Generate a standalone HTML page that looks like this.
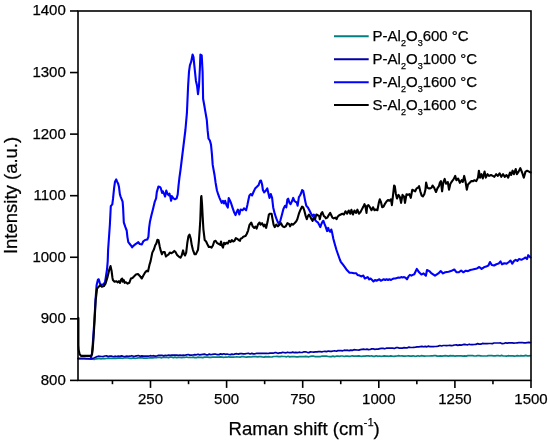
<!DOCTYPE html>
<html><head><meta charset="utf-8"><style>
html,body{margin:0;padding:0;background:#fff;}
body{width:550px;height:443px;overflow:hidden;}
svg{display:block;}
text{font-family:"Liberation Sans",Arial,sans-serif;fill:#000;stroke:#000;stroke-width:0.25px;}
</style></head><body>
<svg width="550" height="443" viewBox="0 0 550 443">
<rect width="550" height="443" fill="#fff"/>
<g fill="none" stroke-linejoin="round" stroke-linecap="round" stroke-width="2.1">
<path d="M78.0,358.8 L79.6,358.9 L81.2,358.9 L82.9,358.9 L84.5,359.0 L86.1,359.1 L87.8,359.1 L89.4,359.1 L91.0,359.2 L92.8,359.2 L94.7,359.3 L96.4,358.8 L98.1,358.7 L99.8,358.7 L101.5,358.8 L103.1,358.4 L104.8,358.7 L106.4,358.5 L108.1,358.4 L109.7,358.3 L111.4,358.3 L113.0,358.5 L114.7,358.2 L116.3,358.4 L118.0,358.2 L119.7,358.0 L121.4,358.2 L123.1,358.3 L124.8,357.8 L126.5,358.0 L128.2,358.0 L129.9,358.3 L131.6,358.3 L133.3,357.9 L135.0,358.3 L136.7,358.2 L138.4,357.8 L140.1,357.9 L141.8,357.7 L143.5,358.1 L145.2,358.0 L146.8,358.1 L148.5,358.0 L150.1,357.9 L151.8,357.9 L153.5,357.8 L155.1,357.4 L156.8,357.7 L158.4,357.3 L160.1,357.4 L161.8,357.8 L163.4,357.3 L165.1,357.3 L166.7,357.2 L168.4,357.8 L170.0,357.2 L171.7,357.1 L173.4,357.6 L175.0,357.1 L176.7,357.6 L178.3,357.4 L180.0,357.5 L181.6,357.6 L183.3,357.4 L184.9,357.5 L186.5,357.0 L188.2,357.5 L189.8,357.4 L191.5,357.5 L193.1,357.1 L194.7,357.6 L196.4,357.7 L198.0,357.1 L199.6,357.3 L201.2,357.4 L202.8,357.6 L204.5,357.1 L206.1,357.1 L207.7,357.1 L209.3,357.3 L210.9,357.4 L212.5,357.2 L214.2,357.1 L215.8,357.1 L217.4,357.1 L219.0,357.1 L220.6,356.8 L222.2,357.1 L223.8,357.4 L225.5,357.0 L227.1,357.2 L228.7,356.8 L230.3,357.1 L231.9,357.2 L233.5,357.1 L235.2,357.0 L236.8,356.9 L238.4,357.0 L240.0,357.2 L241.6,356.6 L243.2,356.6 L244.8,357.0 L246.4,357.2 L248.0,356.9 L249.6,356.8 L251.2,357.0 L252.8,356.6 L254.4,356.6 L256.0,356.6 L257.6,356.8 L259.2,356.6 L260.8,356.6 L262.4,356.9 L264.0,357.1 L265.6,356.6 L267.2,356.9 L268.8,356.7 L270.4,357.0 L272.1,356.8 L273.7,356.5 L275.3,356.5 L276.9,356.3 L278.5,356.6 L280.1,356.6 L281.7,356.4 L283.3,356.5 L284.9,356.5 L286.5,356.8 L288.1,356.3 L289.7,356.9 L291.3,356.6 L292.9,356.6 L294.5,356.5 L296.1,356.8 L297.7,356.8 L299.3,356.6 L300.9,356.5 L302.5,356.7 L304.1,356.7 L305.7,356.4 L307.3,356.6 L308.9,356.8 L310.5,356.4 L312.1,356.2 L313.7,356.2 L315.3,356.6 L316.9,356.5 L318.5,356.7 L320.1,356.6 L321.7,356.2 L323.3,356.1 L324.9,356.2 L326.5,356.1 L328.1,356.5 L329.7,356.6 L331.3,356.6 L332.9,356.1 L334.6,356.6 L336.2,356.2 L337.8,356.2 L339.4,356.4 L341.0,356.0 L342.6,356.0 L344.2,356.5 L345.8,356.1 L347.4,356.1 L349.0,356.3 L350.6,356.3 L352.2,355.8 L353.8,356.1 L355.4,356.1 L357.0,356.1 L358.6,355.9 L360.2,356.2 L361.8,356.4 L363.4,356.0 L365.0,356.1 L366.6,355.8 L368.2,355.9 L369.8,356.2 L371.4,355.8 L373.0,356.4 L374.6,356.4 L376.2,355.8 L377.9,356.4 L379.5,356.0 L381.1,356.3 L382.7,356.2 L384.3,355.9 L385.9,356.2 L387.5,356.2 L389.1,356.3 L390.7,355.9 L392.3,356.2 L393.9,356.4 L395.5,356.1 L397.1,356.0 L398.7,355.7 L400.3,356.0 L402.0,355.9 L403.6,356.2 L405.2,356.1 L406.8,356.0 L408.4,355.8 L410.0,356.1 L411.6,356.1 L413.2,355.8 L414.8,356.3 L416.4,356.1 L418.0,355.7 L419.6,356.3 L421.2,355.7 L422.8,355.8 L424.5,356.1 L426.1,356.0 L427.7,356.0 L429.3,356.0 L430.9,355.9 L432.5,355.8 L434.1,355.7 L435.7,355.6 L437.3,356.1 L438.9,356.1 L440.5,355.9 L442.1,356.1 L443.7,355.8 L445.3,355.7 L446.9,355.8 L448.6,356.2 L450.2,355.6 L451.8,355.9 L453.4,355.7 L455.0,356.1 L456.6,355.8 L458.2,355.8 L459.8,355.8 L461.4,355.9 L463.0,356.1 L464.6,355.8 L466.2,356.1 L467.8,355.6 L469.4,355.7 L471.0,355.6 L472.7,355.6 L474.3,356.0 L475.9,356.0 L477.5,355.6 L479.1,355.6 L480.7,355.8 L482.3,356.0 L483.9,356.0 L485.5,356.0 L487.1,355.9 L488.7,355.6 L490.3,355.7 L491.9,355.6 L493.5,355.8 L495.2,355.8 L496.8,355.6 L498.4,355.6 L500.0,356.0 L501.6,355.4 L503.2,356.0 L504.8,356.0 L506.4,356.1 L508.0,355.7 L509.6,355.8 L511.2,355.8 L512.8,355.8 L514.4,356.1 L516.0,355.9 L517.6,355.6 L519.3,356.0 L520.9,355.7 L522.5,355.8 L524.1,355.9 L525.7,355.4 L527.3,355.9 L528.9,355.8 L530.5,355.7" stroke="#008080" stroke-width="1.7"/>
<path d="M78.0,358.3 L79.7,358.3 L81.3,358.4 L83.0,358.4 L84.7,358.4 L86.3,358.5 L88.0,358.5 L91.1,358.9 L94.0,358.0 L96.2,356.9 L98.4,356.2 L99.8,356.3 L101.5,356.5 L103.2,356.5 L104.8,356.0 L106.5,355.9 L108.2,356.6 L109.9,356.1 L111.5,356.1 L113.2,356.7 L114.9,356.2 L116.6,356.5 L118.2,356.2 L119.9,356.3 L121.6,355.9 L123.3,356.3 L125.0,356.5 L126.7,356.2 L128.3,356.3 L130.0,356.2 L131.7,355.7 L133.4,356.3 L135.1,356.1 L136.8,355.8 L138.4,355.5 L140.1,356.3 L141.8,355.9 L143.5,356.1 L145.2,356.2 L146.9,356.0 L148.5,356.2 L150.2,355.7 L151.9,356.0 L153.6,355.7 L155.2,356.1 L156.9,356.0 L158.6,355.3 L160.3,355.3 L161.9,355.3 L163.6,355.9 L165.3,355.4 L166.9,355.5 L168.6,355.2 L170.2,355.3 L171.8,355.1 L173.5,355.0 L175.1,355.2 L176.7,355.1 L178.4,355.3 L180.0,355.1 L181.6,355.3 L183.3,355.2 L184.9,355.3 L186.5,354.9 L188.2,354.5 L189.8,355.1 L191.5,355.1 L193.1,355.0 L194.7,354.7 L196.4,354.8 L198.0,354.3 L199.6,354.9 L201.2,354.6 L202.8,354.3 L204.5,354.1 L206.1,354.8 L207.7,354.9 L209.3,354.1 L210.9,354.7 L212.5,354.3 L214.2,354.1 L215.8,354.2 L217.4,354.6 L219.0,354.6 L220.6,353.9 L222.2,354.4 L223.8,353.8 L225.5,354.4 L227.1,354.0 L228.7,354.5 L230.3,354.6 L231.9,354.1 L233.5,354.5 L235.2,353.9 L236.8,353.7 L238.4,354.1 L240.0,353.6 L241.7,353.7 L243.4,353.8 L245.0,353.9 L246.7,353.5 L248.4,353.3 L250.1,354.0 L251.8,353.4 L253.4,353.9 L255.1,353.8 L256.8,353.3 L258.4,353.3 L260.1,353.3 L261.7,353.4 L263.3,353.3 L264.9,353.3 L266.6,353.3 L268.2,353.5 L269.8,353.1 L271.4,353.0 L273.1,353.2 L274.7,352.7 L276.3,352.7 L277.9,353.3 L279.6,352.9 L281.2,352.9 L282.8,352.3 L284.4,352.7 L286.1,352.8 L287.7,352.2 L289.3,352.7 L291.0,352.7 L292.6,352.1 L294.2,352.6 L295.8,352.4 L297.5,352.6 L299.1,352.2 L300.7,352.5 L302.3,352.5 L304.0,351.8 L305.6,351.8 L307.2,352.3 L308.8,352.6 L310.5,351.9 L312.1,352.0 L313.7,352.1 L315.3,351.8 L317.0,351.8 L318.6,351.7 L320.2,351.7 L321.8,351.8 L323.4,351.5 L325.0,351.4 L326.6,351.7 L328.2,351.0 L329.9,351.4 L331.5,351.4 L333.1,351.0 L334.7,350.8 L336.3,351.2 L337.9,350.6 L339.5,350.5 L341.1,350.6 L342.7,350.8 L344.3,350.2 L345.9,350.3 L347.5,350.2 L349.1,350.6 L350.7,350.1 L352.4,350.4 L354.0,349.7 L355.6,349.8 L357.2,350.0 L358.8,350.1 L360.4,349.6 L362.0,349.4 L363.6,349.2 L365.2,349.5 L366.9,349.1 L368.5,349.6 L370.1,349.5 L371.7,348.9 L373.3,348.9 L375.0,349.3 L376.6,349.0 L378.2,349.1 L379.8,348.6 L381.5,348.4 L383.1,348.4 L384.7,348.8 L386.3,348.2 L387.9,348.2 L389.6,348.2 L391.2,348.2 L392.8,348.1 L394.4,348.5 L396.0,347.7 L397.7,347.5 L399.3,348.2 L400.9,348.1 L402.5,348.1 L404.1,347.6 L405.8,347.9 L407.4,347.8 L409.0,347.1 L410.6,347.5 L412.3,347.5 L413.9,347.3 L415.5,347.1 L417.1,346.8 L418.7,346.8 L420.4,346.6 L422.0,346.4 L423.6,346.8 L425.2,346.4 L426.9,346.8 L428.5,346.1 L430.1,346.7 L431.8,346.5 L433.4,346.6 L435.0,346.5 L436.7,346.4 L438.3,346.1 L439.9,345.5 L441.6,346.0 L443.2,345.5 L444.8,345.5 L446.5,345.7 L448.1,345.5 L449.7,345.4 L451.4,345.7 L453.0,345.4 L454.6,345.0 L456.3,344.9 L457.9,345.4 L459.5,344.9 L461.2,345.1 L462.8,344.7 L464.4,344.4 L466.1,344.7 L467.7,344.8 L469.3,344.2 L471.0,344.7 L472.6,344.7 L474.2,344.5 L475.9,344.4 L477.5,343.6 L479.1,344.1 L480.8,344.2 L482.4,343.4 L484.0,343.6 L485.7,343.5 L487.3,343.6 L489.0,343.5 L490.6,343.5 L492.3,343.7 L493.9,343.0 L495.6,343.0 L497.3,343.0 L498.9,343.0 L500.6,342.9 L502.3,343.7 L503.9,343.5 L505.6,342.8 L507.2,343.1 L508.9,342.9 L510.6,342.9 L512.2,342.9 L513.9,343.1 L515.5,343.0 L517.2,342.8 L518.9,342.6 L520.5,342.7 L522.2,342.5 L523.9,342.8 L525.5,342.9 L527.2,342.6 L528.8,342.3 L530.5,342.6" stroke="#0000aa" stroke-width="1.7"/>
<path d="M90.8,358.2 L91.9,354.0 L92.7,345.0 L93.6,332.0 L94.4,320.0 L95.5,300.0 L96.6,285.3 L97.9,279.7 L98.7,279.3 L99.8,282.9 L100.7,285.3 L101.8,284.5 L103.4,284.5 L105.0,282.1 L105.8,277.4 L107.0,269.5 L107.7,261.6 L108.1,250.0 L109.9,224.2 L110.8,206.1 L112.3,204.3 L113.0,198.9 L114.1,188.1 L115.0,181.7 L116.2,179.4 L117.1,181.7 L118.1,183.5 L119.0,187.1 L119.9,194.4 L120.8,197.1 L122.6,201.6 L123.1,207.9 L123.8,222.3 L125.3,226.9 L126.7,230.5 L127.4,236.8 L128.3,242.2 L129.8,244.0 L131.0,245.5 L132.1,247.3 L133.4,245.8 L135.2,244.4 L137.0,243.1 L138.3,242.2 L139.7,244.0 L141.9,244.4 L143.3,241.3 L145.1,240.0 L147.3,239.5 L148.4,236.8 L149.1,227.8 L150.0,221.4 L151.3,215.8 L152.9,209.5 L154.8,201.6 L156.1,198.4 L156.8,192.1 L158.4,186.6 L160.0,187.1 L160.8,188.2 L162.1,192.9 L162.8,191.3 L164.0,193.7 L165.1,196.5 L166.3,190.5 L167.4,193.7 L168.7,195.3 L169.5,193.7 L170.3,196.8 L171.1,200.8 L171.8,196.0 L173.4,198.4 L175.0,199.2 L176.6,198.4 L177.7,194.5 L178.5,185.8 L179.4,177.9 L180.5,170.0 L185.4,130.0 L186.9,113.2 L188.1,86.1 L189.0,71.7 L189.9,65.3 L191.2,61.7 L192.6,54.5 L193.5,57.2 L194.4,66.2 L195.9,80.7 L197.1,86.1 L198.0,94.2 L199.0,86.1 L199.9,68.0 L200.4,54.5 L201.7,55.4 L202.6,71.7 L203.1,98.7 L204.4,106.0 L205.3,111.4 L206.8,120.0 L207.6,130.2 L208.5,138.6 L209.8,140.3 L211.0,144.6 L211.9,153.9 L212.7,164.9 L214.4,174.2 L215.6,182.7 L216.9,190.3 L218.3,194.7 L219.6,198.1 L221.7,202.9 L223.0,200.8 L224.1,203.5 L225.1,200.8 L226.4,204.9 L227.8,207.6 L228.7,198.1 L229.8,200.2 L231.2,203.5 L232.5,207.6 L233.9,211.7 L235.5,215.1 L236.8,211.7 L237.9,209.6 L239.3,214.4 L240.6,209.6 L242.7,210.3 L244.0,208.3 L246.1,210.3 L247.4,204.9 L248.5,199.5 L249.4,195.4 L250.8,194.1 L252.1,195.4 L253.5,192.0 L255.1,188.6 L258.5,185.3 L260.0,181.0 L261.0,180.5 L262.1,184.5 L262.9,190.0 L264.2,192.4 L265.7,190.8 L267.3,188.4 L268.4,193.2 L269.5,197.9 L270.8,194.0 L272.1,197.9 L273.2,207.4 L274.7,213.7 L276.3,218.4 L277.9,222.4 L279.0,224.0 L280.3,220.8 L281.8,215.3 L283.4,208.9 L285.0,205.8 L286.3,207.4 L287.4,199.5 L288.2,198.7 L289.4,202.6 L290.5,204.2 L292.1,201.1 L293.2,197.9 L294.5,201.1 L295.7,201.8 L296.8,202.6 L297.6,205.8 L298.9,197.1 L300.0,195.5 L301.1,193.2 L302.1,190.0 L303.2,190.8 L304.3,196.3 L305.2,201.1 L306.3,205.8 L307.9,207.4 L309.5,210.5 L311.1,213.7 L312.6,216.1 L313.7,214.5 L315.0,216.1 L315.1,220.0 L316.6,221.6 L317.9,222.4 L319.2,224.7 L320.3,227.1 L321.4,223.9 L322.6,221.6 L323.4,220.8 L324.5,223.9 L325.8,227.1 L327.1,231.1 L328.2,227.9 L328.9,230.3 L330.2,231.8 L331.3,229.5 L332.1,232.6 L333.4,239.0 L334.9,244.5 L336.5,250.0 L338.4,255.5 L340.0,260.0 L340.8,261.8 L343.0,264.7 L345.2,267.6 L346.6,269.8 L348.1,271.3 L349.5,272.7 L351.7,272.7 L353.9,273.2 L356.1,273.2 L357.5,274.9 L359.7,275.6 L361.2,276.4 L363.4,275.6 L364.8,278.5 L366.3,277.8 L367.7,277.1 L369.2,279.3 L370.6,278.5 L372.1,280.0 L373.5,281.5 L375.0,280.0 L376.5,280.7 L377.9,280.0 L379.4,279.3 L380.8,280.7 L382.3,280.0 L383.7,279.3 L385.2,280.0 L386.6,279.3 L388.1,280.0 L389.5,279.3 L391.0,280.0 L392.5,279.0 L393.9,278.5 L395.4,278.5 L396.8,278.1 L398.3,277.5 L399.7,277.8 L401.2,277.1 L402.6,277.5 L404.1,277.1 L405.5,277.8 L407.0,279.3 L408.5,276.4 L409.9,274.9 L411.4,275.6 L412.8,274.9 L414.3,274.2 L416.8,268.9 L419.1,272.3 L421.4,274.5 L423.6,273.4 L425.9,275.7 L427.0,270.0 L429.3,271.1 L431.6,273.4 L435.0,275.7 L438.4,273.4 L440.7,271.1 L443.0,273.4 L445.2,272.3 L448.6,271.8 L450.9,271.1 L454.3,269.5 L456.6,272.3 L458.9,272.3 L461.1,270.5 L463.4,272.3 L465.7,270.7 L468.0,271.1 L470.2,270.0 L472.5,269.5 L474.8,268.9 L477.0,268.4 L479.3,267.0 L481.6,268.9 L483.9,267.3 L486.1,266.6 L488.4,265.5 L490.0,262.0 L491.8,265.0 L494.1,265.5 L496.4,264.3 L498.6,263.6 L500.5,261.4 L502.0,264.3 L504.3,263.2 L506.6,263.6 L508.9,262.0 L510.5,260.5 L512.3,263.6 L514.1,260.9 L515.7,259.8 L517.3,260.9 L519.1,259.1 L521.4,259.8 L523.6,258.6 L525.5,257.5 L527.0,259.1 L528.2,255.2 L530.5,257.5" stroke="#0000ff"/>
<path d="M78.4,318.0 L78.4,345.0 L78.7,350.0 L79.6,354.3 L81.2,355.9 L91.0,355.9 L92.0,354.5 L92.7,349.0 L93.3,341.0 L94.0,330.0 L94.6,320.0 L95.7,300.0 L97.1,288.4 L98.7,286.8 L100.3,285.3 L101.8,286.8 L103.9,286.1 L105.5,283.7 L107.4,277.4 L109.3,269.5 L110.5,266.0 L111.6,271.0 L112.4,277.4 L112.9,280.1 L114.5,281.7 L116.2,281.2 L117.8,282.3 L118.9,281.2 L120.0,282.8 L121.1,279.5 L122.2,278.5 L122.7,281.7 L123.8,280.1 L124.7,282.8 L126.0,282.3 L127.6,283.6 L129.3,282.8 L130.9,278.5 L132.5,277.9 L134.2,276.3 L135.8,274.6 L138.0,274.1 L139.6,275.7 L141.8,278.5 L143.5,275.2 L145.1,272.5 L146.7,270.8 L148.0,271.4 L149.5,264.8 L150.6,261.1 L152.3,252.6 L154.0,249.2 L155.2,245.3 L156.3,243.6 L157.4,239.7 L158.5,240.2 L159.7,246.4 L160.8,250.9 L161.9,254.3 L163.0,252.1 L164.7,252.1 L165.9,256.6 L167.0,255.5 L168.7,254.3 L169.8,252.6 L171.5,253.2 L173.2,252.1 L174.3,250.9 L175.5,252.1 L177.1,254.9 L178.8,256.6 L180.5,257.7 L181.7,255.5 L183.1,250.4 L183.9,253.8 L185.0,255.5 L186.2,252.6 L187.3,243.0 L188.4,236.3 L189.5,234.6 L190.7,238.5 L191.8,245.3 L192.9,249.8 L194.6,254.3 L195.8,254.3 L196.9,252.1 L198.0,249.8 L198.9,240.8 L199.7,229.5 L200.3,220.0 L201.1,197.0 L201.4,196.1 L202.0,203.5 L202.7,217.1 L203.4,229.3 L204.7,240.1 L206.1,241.5 L207.4,244.2 L208.8,246.9 L210.2,246.9 L211.5,247.6 L212.9,245.5 L214.2,241.5 L215.6,240.8 L216.9,242.8 L219.0,244.2 L220.3,244.9 L221.0,241.5 L221.9,245.5 L223.0,247.6 L224.1,242.8 L225.1,244.2 L226.4,242.8 L227.8,243.5 L229.1,240.8 L230.5,242.1 L231.8,240.1 L233.2,241.5 L234.5,240.8 L235.9,238.1 L237.2,238.8 L238.6,240.1 L240.0,240.8 L240.6,238.8 L242.0,238.1 L243.3,236.7 L245.4,236.1 L246.7,234.0 L248.1,230.6 L249.4,225.2 L251.2,222.5 L252.8,226.6 L254.2,227.9 L255.5,226.6 L256.6,228.6 L258.0,224.5 L259.6,222.5 L260.5,224.7 L262.1,223.2 L263.7,226.3 L264.8,224.7 L266.1,227.9 L267.6,221.6 L268.9,214.5 L270.0,213.7 L271.6,213.7 L272.4,218.4 L273.6,224.7 L274.7,227.1 L276.3,224.7 L277.9,226.3 L279.5,224.7 L281.0,223.2 L282.6,226.3 L284.2,227.1 L285.8,226.3 L287.4,223.2 L289.0,223.9 L290.1,226.3 L291.6,223.9 L292.9,224.7 L294.5,223.2 L296.1,221.6 L297.3,219.2 L298.9,213.7 L300.5,209.7 L302.1,206.6 L303.2,207.4 L304.3,210.5 L305.5,215.3 L306.8,219.2 L307.9,216.1 L309.0,214.5 L310.3,216.8 L311.5,219.2 L312.6,220.8 L313.7,217.6 L315.0,219.2 L316.3,214.5 L317.9,215.3 L319.2,216.1 L319.8,219.2 L321.1,213.7 L322.3,212.1 L323.9,216.1 L325.0,216.8 L325.8,218.4 L327.4,217.6 L328.6,215.3 L330.2,212.9 L331.3,215.3 L332.4,217.6 L333.7,218.4 L335.3,217.6 L336.5,219.2 L337.6,216.8 L339.2,215.3 L340.8,214.5 L342.4,213.7 L343.9,214.5 L345.5,211.3 L347.1,213.7 L348.7,210.5 L350.3,213.7 L351.4,209.7 L352.9,214.5 L354.5,210.5 L356.1,212.9 L357.4,209.7 L358.9,213.7 L360.5,212.1 L362.1,208.9 L363.4,206.6 L364.5,204.2 L365.6,207.4 L366.5,212.9 L367.2,205.8 L368.4,205.0 L370.0,207.4 L371.5,210.2 L373.0,207.3 L374.5,210.2 L375.9,209.5 L377.4,210.2 L378.8,202.9 L379.8,199.3 L381.0,202.2 L382.2,207.3 L383.6,206.5 L385.1,203.6 L386.5,201.5 L388.0,200.0 L389.4,200.7 L390.9,199.3 L391.9,205.1 L392.9,196.4 L394.1,185.5 L394.8,186.2 L395.8,193.5 L397.0,198.5 L398.5,194.9 L399.9,197.1 L401.1,202.9 L402.5,194.9 L404.0,196.4 L405.0,202.9 L406.5,194.2 L407.9,194.9 L409.4,194.2 L410.8,197.8 L412.3,189.8 L413.7,190.5 L415.2,191.3 L416.6,188.4 L418.1,187.6 L419.1,186.2 L420.3,191.3 L421.7,195.6 L422.9,196.4 L424.3,194.2 L425.4,189.8 L426.1,182.5 L427.3,187.6 L428.7,188.4 L430.2,188.4 L431.6,187.6 L432.6,185.5 L434.1,187.6 L436.0,192.0 L437.4,188.4 L438.9,186.2 L439.9,182.5 L440.9,181.1 L442.1,191.3 L443.3,182.5 L444.7,178.9 L446.0,183.7 L447.8,182.0 L449.0,189.7 L450.4,183.7 L452.1,181.1 L453.5,179.4 L455.2,175.9 L456.4,180.2 L458.1,178.5 L459.9,182.8 L461.6,180.2 L462.8,182.0 L464.2,175.9 L465.6,182.0 L466.8,189.7 L468.0,184.5 L469.7,182.8 L471.4,181.1 L473.2,181.1 L474.5,180.2 L476.3,181.1 L478.0,177.6 L478.9,170.7 L480.1,177.6 L481.5,174.2 L482.8,178.5 L484.6,171.6 L485.8,177.6 L487.5,174.2 L489.2,175.9 L491.0,175.0 L492.7,175.9 L494.4,176.8 L496.1,174.2 L497.9,175.9 L499.6,173.3 L501.3,176.8 L503.0,174.2 L504.8,176.8 L506.5,175.0 L508.2,177.6 L510.0,172.5 L511.2,175.0 L512.6,170.7 L513.9,174.2 L515.7,169.0 L516.9,174.2 L518.6,171.6 L520.3,168.1 L522.1,172.5 L523.8,177.6 L525.5,171.6 L527.2,170.7 L529.0,171.6 L530.7,172.5" stroke="#000"/>
</g>
<g stroke="#000" stroke-width="1.6" fill="none">
<rect x="78" y="11" width="453" height="369.4"/>
<line x1="70" y1="380.40" x2="78" y2="380.40"/><line x1="70" y1="318.83" x2="78" y2="318.83"/><line x1="70" y1="257.26" x2="78" y2="257.26"/><line x1="70" y1="195.69" x2="78" y2="195.69"/><line x1="70" y1="134.12" x2="78" y2="134.12"/><line x1="70" y1="72.55" x2="78" y2="72.55"/><line x1="70" y1="10.98" x2="78" y2="10.98"/><line x1="112.45" y1="380.4" x2="112.45" y2="384.20"/><line x1="150.50" y1="380.4" x2="150.50" y2="387.90"/><line x1="188.55" y1="380.4" x2="188.55" y2="384.20"/><line x1="226.60" y1="380.4" x2="226.60" y2="387.90"/><line x1="264.65" y1="380.4" x2="264.65" y2="384.20"/><line x1="302.70" y1="380.4" x2="302.70" y2="387.90"/><line x1="340.75" y1="380.4" x2="340.75" y2="384.20"/><line x1="378.80" y1="380.4" x2="378.80" y2="387.90"/><line x1="416.85" y1="380.4" x2="416.85" y2="384.20"/><line x1="454.90" y1="380.4" x2="454.90" y2="387.90"/><line x1="492.95" y1="380.4" x2="492.95" y2="384.20"/><line x1="531.00" y1="380.4" x2="531.00" y2="387.90"/>
</g>
<g font-size="15">
<text x="65.8" y="384.90" text-anchor="end">800</text><text x="65.8" y="323.33" text-anchor="end">900</text><text x="65.8" y="261.76" text-anchor="end">1000</text><text x="65.8" y="200.19" text-anchor="end">1100</text><text x="65.8" y="138.62" text-anchor="end">1200</text><text x="65.8" y="77.05" text-anchor="end">1300</text><text x="65.8" y="15.48" text-anchor="end">1400</text>
<text x="150.50" y="404" text-anchor="middle">250</text><text x="226.60" y="404" text-anchor="middle">500</text><text x="302.70" y="404" text-anchor="middle">750</text><text x="378.80" y="404" text-anchor="middle">1000</text><text x="454.90" y="404" text-anchor="middle">1250</text><text x="531.00" y="404" text-anchor="middle">1500</text>
</g>
<g font-size="15">
<line x1="334" y1="36.15" x2="368.7" y2="36.15" stroke="#008080" stroke-width="2"/><text x="372.6" y="40.85">P-Al<tspan font-size="9" dy="4.8">2</tspan><tspan dy="-4.8">O</tspan><tspan font-size="9" dy="4.8">3</tspan><tspan dy="-4.8">600 °C</tspan></text><line x1="334" y1="59.15" x2="368.7" y2="59.15" stroke="#0000aa" stroke-width="2"/><text x="372.6" y="63.85">P-Al<tspan font-size="9" dy="4.8">2</tspan><tspan dy="-4.8">O</tspan><tspan font-size="9" dy="4.8">3</tspan><tspan dy="-4.8">1000 °C</tspan></text><line x1="334" y1="82.15" x2="368.7" y2="82.15" stroke="#0000ff" stroke-width="2"/><text x="372.6" y="86.85">P-Al<tspan font-size="9" dy="4.8">2</tspan><tspan dy="-4.8">O</tspan><tspan font-size="9" dy="4.8">3</tspan><tspan dy="-4.8">1600 °C</tspan></text><line x1="334" y1="105" x2="368.7" y2="105" stroke="#000000" stroke-width="2"/><text x="372.6" y="109.70">S-Al<tspan font-size="9" dy="4.8">2</tspan><tspan dy="-4.8">O</tspan><tspan font-size="9" dy="4.8">3</tspan><tspan dy="-4.8">1600 °C</tspan></text>
</g>
<text x="228.5" y="434.7" font-size="18.6">Raman shift (cm<tspan font-size="10.5" dx="0" dy="-8.8">-</tspan><tspan font-size="10.5" dx="0.5">1</tspan><tspan dx="-0.2" dy="8.8">)</tspan></text>
<text transform="translate(16.9,195.45) rotate(-90)" font-size="18.5" text-anchor="middle">Intensity (a.u.)</text>
</svg>
</body></html>
